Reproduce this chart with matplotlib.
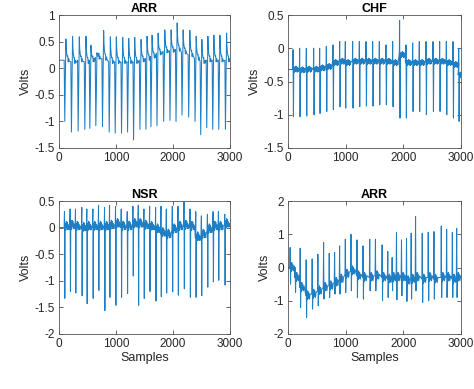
import matplotlib
matplotlib.use("Agg")
import matplotlib.pyplot as plt
from matplotlib.ticker import FuncFormatter

plt.rcParams["font.family"] = ["Liberation Sans", "DejaVu Sans"]
plt.rcParams["axes.unicode_minus"] = False

N_SAMPLES = 3000
SAMPLE_TICKS = [0, 1000, 2000, 3000]
LINE_COLOR = "#1f7fc4"

# top left: ARR (sample index of each beat, R level, S level, baseline level)
ARR1_BEATS = [111, 228, 346, 463, 551, 656, 773, 891, 996, 1107, 1213, 1318, 1430, 1535,
              1623, 1729, 1846, 1957, 2063, 2168, 2285, 2397, 2496, 2602, 2707, 2813, 2930]
ARR1_PEAKS = [0.55, 0.60, 0.59, 0.60, 0.43, 0.29, 0.71, 0.59, 0.59, 0.58, 0.56, 0.58, 0.54, 0.60,
              0.62, 0.66, 0.72, 0.72, 0.85, 0.72, 0.71, 0.60, 0.54, 0.60, 0.62, 0.62, 0.66]
ARR1_TROUGHS = [-1.0, -1.2, -1.18, -1.15, -1.13, -1.08, -1.1, -1.2, -1.22, -1.22, -1.2, -1.35, -1.15, -1.15,
                -1.1, -1.08, -1.0, -0.98, -1.0, -0.88, -0.92, -1.0, -1.25, -1.12, -1.15, -1.15, -1.15]
ARR1_LEVELS = [0.15, 0.12, 0.15, 0.12, 0.15, 0.2, 0.18, 0.12, 0.12, 0.12, 0.12, 0.12, 0.15, 0.18,
               0.22, 0.28, 0.32, 0.33, 0.35, 0.3, 0.25, 0.18, 0.12, 0.15, 0.15, 0.15, 0.15]

# top right: CHF
CHF_BEATS = [87, 202, 318, 445, 549, 665, 780, 896, 994, 1121, 1237, 1353, 1468, 1584,
             1699, 1815, 1935, 2046, 2162, 2277, 2393, 2515, 2630, 2746, 2862, 2960]
CHF_PEAKS = [-0.02, 0.0, 0.0, 0.0, 0.0, 0.03, 0.05, 0.1, 0.1, 0.1, 0.1, 0.1, 0.1, 0.1,
             0.05, 0.1, 0.42, 0.05, 0.08, 0.1, 0.1, 0.1, 0.1, 0.1, 0.1, 0.0]
CHF_TROUGHS = [-1.03, -1.03, -1.02, -1.0, -0.98, -0.95, -0.92, -0.88, -0.9, -0.9, -0.88, -0.87, -0.87, -0.85,
               -0.85, -0.88, -1.05, -1.05, -0.95, -0.95, -1.0, -0.95, -0.95, -1.0, -1.05, -1.1]
CHF_LEVELS = [-0.32, -0.33, -0.32, -0.32, -0.3, -0.28, -0.22, -0.2, -0.22, -0.2, -0.2, -0.2, -0.2, -0.2,
              -0.2, -0.22, -0.1, -0.22, -0.22, -0.22, -0.2, -0.2, -0.2, -0.22, -0.25, -0.4]

# bottom left: NSR
NSR_BEATS = [100, 199, 293, 404, 492, 598, 697, 803, 891, 996, 1096, 1201, 1301, 1395, 1494,
             1594, 1699, 1793, 1887, 1992, 2092, 2197, 2303, 2403, 2502, 2608, 2707, 2801, 2912]
NSR_PEAKS = [0.3, 0.35, 0.35, 0.38, 0.35, 0.35, 0.42, 0.38, 0.42, 0.4, 0.35, 0.3, 0.4, 0.42, 0.35,
             0.4, 0.38, 0.4, 0.35, 0.4, 0.4, 0.48, 0.35, 0.3, 0.22, 0.25, 0.3, 0.3, 0.25]
NSR_TROUGHS = [-1.33, -1.2, -1.23, -1.28, -1.43, -1.33, -1.18, -1.56, -1.31, -1.46, -1.31, -1.24, -0.91, -1.46, -1.33,
               -1.2, -1.38, -1.3, -1.23, -1.21, -1.27, -1.15, -1.31, -1.31, -1.28, -1.12, -1.02, -0.99, -1.08]
NSR_LEVELS = [0.0, 0.02, 0.0, -0.02, 0.0, 0.0, 0.0, 0.0, 0.02, 0.05, 0.0, 0.0, 0.05, 0.05, 0.02,
              0.0, -0.05, -0.12, -0.15, -0.05, 0.0, 0.02, 0.0, -0.2, -0.15, -0.05, 0.0, 0.0, 0.05]

# bottom right: ARR
ARR2_BEATS = [41, 128, 215, 319, 423, 522, 621, 719, 812, 899, 998, 1096, 1201, 1305, 1421, 1520,
              1636, 1734, 1810, 1885, 1972, 2059, 2140, 2216, 2332, 2436, 2535, 2662, 2755, 2854, 2929]
ARR2_PEAKS = [0.6, 0.0, 0.58, 0.23, 0.26, 0.4, 0.75, 0.43, 0.45, 0.65, 0.85, 1.0, 0.83, 0.65, 0.85, 0.85,
              0.68, 0.48, 0.3, 1.05, 0.83, 0.87, 1.03, 1.53, 1.03, 1.06, 1.08, 1.25, 1.15, 1.05, 1.18]
ARR2_TROUGHS = [-0.5, -0.75, -1.2, -1.5, -1.25, -1.15, -0.95, -0.9, -0.8, -0.8, -0.75, -0.7, -0.9, -0.95, -0.7, -0.7,
                -1.0, -0.9, -0.7, -0.97, -0.85, -1.02, -0.95, -0.7, -1.05, -1.0, -0.95, -0.9, -0.9, -0.9, -0.9]
ARR2_LEVELS = [0.0, -0.3, -0.6, -0.85, -0.8, -0.7, -0.6, -0.55, -0.45, -0.35, -0.2, -0.1, -0.25, -0.3, -0.3, -0.25,
               -0.3, -0.35, -0.3, -0.3, -0.3, -0.4, -0.35, -0.3, -0.35, -0.3, -0.35, -0.3, -0.3, -0.35, -0.3]

# beat shapes: (offset in samples, share of R, share of S, extra volts)
SAWTOOTH = [(-20, 0, 0, 0), (-10, 0, 1, 0), (10, 1, 0, 0), (16, 0.55, 0, 0), (24, 0.3, 0, 0),
            (34, 0.12, 0, 0.02), (42, 0, 0, 0.08), (50, 0, 0, -0.03), (60, 0, 0, 0.03), (70, 0, 0, -0.02)]
SPIKE_NOISY = [(-10, 0, 0, 0), (-4, 0, 0, 0.04), (0, 1, 0, 0), (7, 0, 1, 0), (13, 0, 0, -0.06),
               (18, 0, 0, 0.03), (25, 0, 0, -0.04), (32, 0, 0, 0.04), (40, 0, 0, -0.03), (48, 0, 0, 0.05),
               (56, 0, 0, -0.02), (64, 0, 0, 0.04), (72, 0, 0, -0.04), (80, 0, 0, 0.03), (90, 0, 0, -0.03),
               (98, 0, 0, 0.02)]
SPIKE_TWAVE = [(-10, 0, 0, 0), (-4, 1, 0, 0), (2, 0, 1, 0), (7, 0, 0, -0.1), (13, 0, 0, 0.08),
               (20, 0, 0, -0.05), (28, 0, 0, 0.12), (36, 0, 0, 0.0), (44, 0, 0, 0.1), (52, 0, 0, -0.04),
               (62, 0, 0, 0.06), (72, 0, 0, -0.04), (80, 0, 0, 0.03)]
SPIKE_WIDE = [(-10, 0, 0, 0), (-4, 1, 0, 0), (3, 0, 1, 0), (9, 0, 0, 0.1), (16, 0, 0, -0.12),
              (24, 0, 0, 0.15), (32, 0, 0, -0.08), (42, 0, 0, 0.1), (53, 0, 0, -0.1), (64, 0, 0, 0.05)]


def trace(beats, peaks, troughs, levels, shape):
    xs, ys = [0], [levels[0]]
    for b, p, t, lv in zip(beats, peaks, troughs, levels):
        for dx, a, c, off in shape:
            x = b + dx
            if 0 <= x <= N_SAMPLES:
                xs.append(x)
                ys.append(lv + a * (p - lv) + c * (t - lv) + off)
    xs.append(N_SAMPLES)
    ys.append(levels[-1])
    return xs, ys


def fmt(v, _pos):
    return f"{v:g}"


W, H = 474, 389
panels = [
    ([59, 15, 230, 148], "ARR", (ARR1_BEATS, ARR1_PEAKS, ARR1_TROUGHS, ARR1_LEVELS), SAWTOOTH,
     (-1.5, 1), [-1.5, -1, -0.5, 0, 0.5, 1], False),
    ([288, 15, 461, 148], "CHF", (CHF_BEATS, CHF_PEAKS, CHF_TROUGHS, CHF_LEVELS), SPIKE_NOISY,
     (-1.5, 0.5), [-1.5, -1, -0.5, 0, 0.5], False),
    ([59, 201, 230, 334], "NSR", (NSR_BEATS, NSR_PEAKS, NSR_TROUGHS, NSR_LEVELS), SPIKE_TWAVE,
     (-2, 0.5), [-2, -1.5, -1, -0.5, 0, 0.5], True),
    ([288, 201, 461, 334], "ARR", (ARR2_BEATS, ARR2_PEAKS, ARR2_TROUGHS, ARR2_LEVELS), SPIKE_WIDE,
     (-2, 2), [-2, -1, 0, 1, 2], True),
]

fig = plt.figure(figsize=(W / 100, H / 100), dpi=100)
for (x0, y0, x1, y1), title, series, shape, ylim, yticks, show_xlabel in panels:
    ax = fig.add_axes([x0 / W, 1 - y1 / H, (x1 - x0) / W, (y1 - y0) / H])
    xs, ys = trace(*series, shape)
    ax.plot(xs, ys, color=LINE_COLOR, linewidth=0.75)
    ax.set_xlim(0, N_SAMPLES)
    ax.set_ylim(*ylim)
    ax.set_xticks(SAMPLE_TICKS)
    ax.set_yticks(yticks)
    ax.yaxis.set_major_formatter(FuncFormatter(fmt))
    ax.tick_params(direction="in", length=3, width=0.5, top=True, right=True,
                   labelsize=8.5, colors="#262626", pad=3)
    for s in ax.spines.values():
        s.set_color("#555555")
        s.set_linewidth(0.6)
    ax.set_title(title, fontsize=9, fontweight="bold", pad=2)
    ax.set_ylabel("Volts", fontsize=9, color="#262626", labelpad=2)
    if show_xlabel:
        ax.set_xlabel("Samples", fontsize=9, color="#262626", labelpad=1)

fig.savefig("out.png", dpi=100, facecolor="white")
